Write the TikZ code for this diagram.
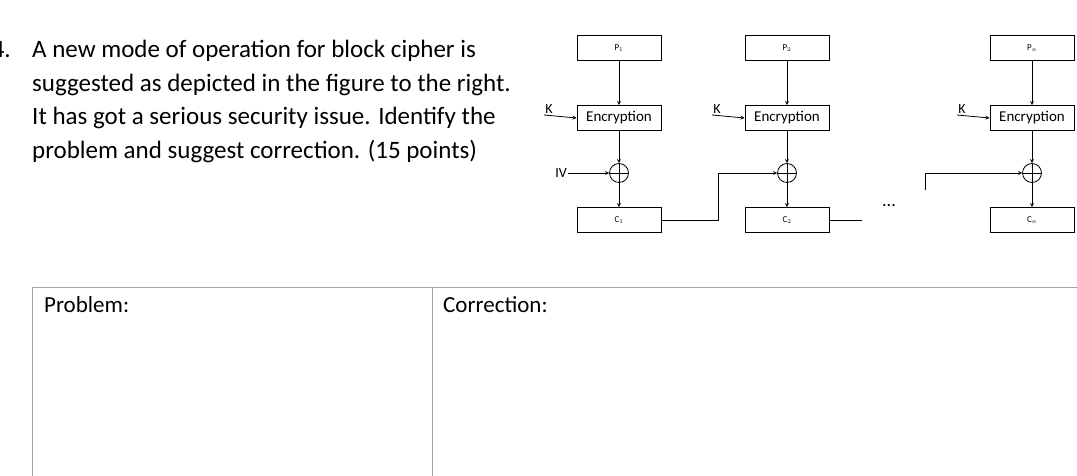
\documentclass[tikz,border=0pt]{standalone}
\usepackage{fontspec}
\setmainfont{Carlito}
\begin{document}
\begin{tikzpicture}[x=1pt,y=-1pt,
  blk/.style={draw, thick, minimum width=84pt, minimum height=25pt, inner sep=0pt, font=\fontsize{11}{11}\selectfont},
  xr/.style={draw, thick, circle, minimum size=19pt, inner sep=0pt, path picture={\draw[thick] (path picture bounding box.north) -- (path picture bounding box.south) (path picture bounding box.west) -- (path picture bounding box.east);}},
  arr/.style={thick,->,>=stealth},
  lbl/.style={font=\fontsize{14}{14}\selectfont, inner sep=1pt},
  txt/.style={anchor=base west, inner sep=0pt, font=\fontsize{25}{25}\selectfont}]
\clip (0,0) rectangle (1077,476);
\fill[white] (0,0) rectangle (1077,476);
% question text
\node[txt, anchor=base east] (num) at (11,58) {4.};
\node[txt] (l1) at (32,58) {A new mode of operation for block cipher is};
\node[txt] (l2) at (32,92) {suggested as depicted in the figure to the right.};
\node[txt] (l3) at (32,125) {It has got a serious security issue. Identify the};
\node[txt] (l4) at (32,159) {problem and suggest correction. (15 points)};
% blocks
\foreach \i/\x/\s in {1/619/1, 2/787/2, 3/1032/n}{
  \node[blk, font=\fontsize{9}{9}\selectfont] (p\i) at (\x,48) {P$_{\s}$};
  \node[blk, font=\fontsize{15}{15}\selectfont] (e\i) at (\x,118) {Encryption};
  \node[xr] (x\i) at (\x,173) {};
  \node[blk, font=\fontsize{9}{9}\selectfont] (c\i) at (\x,220) {C$_{\s}$};
  \node[lbl, anchor=south] (k\i) at (\x-70,115) {K};
  \draw[arr] (p\i) -- (e\i);
  \draw[arr] (e\i) -- (x\i);
  \draw[arr] (x\i) -- (c\i);
  \draw[arr] (k\i.south west) -- (e\i.west);
}
\node[lbl, anchor=east] (iv) at (568,173) {IV};
\draw[arr] (iv) -- (x1);
\draw[arr] (c1.east) -| (718,173) -- (x2.west);
\coordinate (c2end) at (862,220);
\draw[thick] (c2.east) -- (c2end);
\node[font=\fontsize{18}{18}\selectfont] (dots) at (889,206) {...};
\coordinate (cnstart) at (925,190);
\draw[arr] (cnstart) |- (x3.west);
% table
\draw[gray!70, thick] (32,287) rectangle (1090,490);
\draw[gray!70, thick] (432,287) -- (432,490);
\node[txt, font=\fontsize{23}{23}\selectfont] (prob) at (44,312) {Problem:};
\node[txt, font=\fontsize{23}{23}\selectfont] (corr) at (443,312) {Correction:};
\end{tikzpicture}
\end{document}
